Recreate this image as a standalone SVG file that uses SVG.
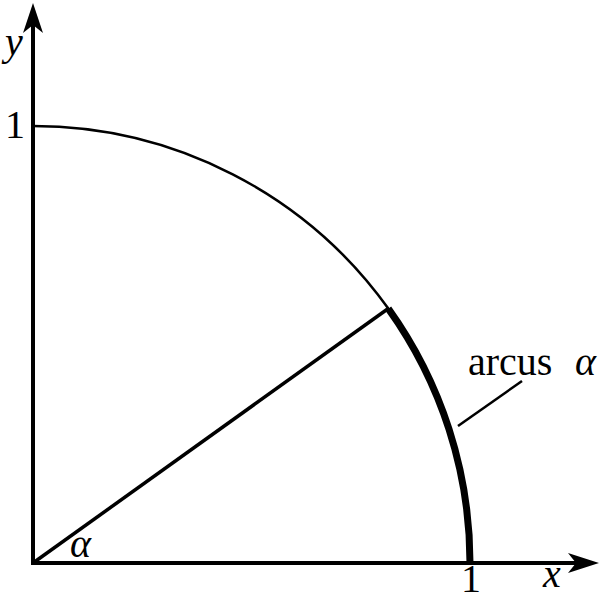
<svg xmlns="http://www.w3.org/2000/svg" width="600" height="600" viewBox="0 0 600 600">
<style>
.t{font-family:"Liberation Serif","Times New Roman",serif;font-size:40px;fill:#000}
.i{font-style:italic}
.ln{fill:none;stroke:#000;stroke-linecap:butt}
</style>
<rect width="600" height="600" fill="#fff"/>
<g id="axes">
<line class="ln" x1="33" y1="565" x2="33" y2="20" stroke-width="4"/>
<path d="M33,3 L43,33 L33,25 L23,33 Z" fill="#000"/>
<line class="ln" x1="31" y1="563" x2="580" y2="563" stroke-width="4"/>
<path d="M599,563 L568,573 L576,563 L568,553 Z" fill="#000"/>
</g>
<g id="circle">
<path class="ln" d="M33,126 A437,437 0 0 1 388.3,308.6" stroke-width="2.5"/>
<path class="ln" d="M388.3,308.6 A437,437 0 0 1 470,563" stroke-width="7"/>
</g>
<g id="connectors">
<line class="ln" x1="33" y1="563" x2="389" y2="308" stroke-width="3.5"/>
<line class="ln" x1="458" y1="426" x2="522" y2="381" stroke-width="2.5"/>
</g>
<g id="labels">
<text class="t i" x="5" y="55">y</text>
<text class="t" x="15" y="138" text-anchor="middle" font-size="38">1</text>
<text class="t" x="471" y="592" text-anchor="middle" font-size="28">1</text>
<text class="t i" x="543" y="587">x</text>
<text class="t i" x="70" y="557" font-size="38">α</text>
<text class="t" x="468" y="375">arcus<tspan class="i" x="575">α</tspan></text>
</g>
</svg>
